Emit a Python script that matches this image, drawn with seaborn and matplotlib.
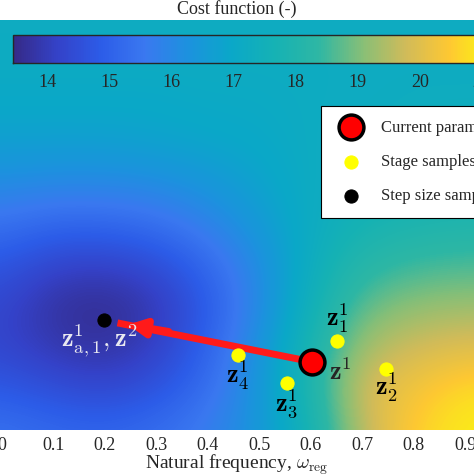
import numpy as np
import matplotlib
matplotlib.use("Agg")
import matplotlib.pyplot as plt
import seaborn as sns
from matplotlib.colors import LinearSegmentedColormap

sns.set_style("white")
plt.rcParams['font.family'] = ['Liberation Serif', 'DejaVu Serif']
plt.rcParams['mathtext.fontset'] = 'cm'

grid_x = [0.0, 0.1, 0.2, 0.3, 0.4, 0.5, 0.6, 0.7, 0.8, 0.9]
grid_y = [0.0, 0.1, 0.2, 0.3, 0.4, 0.5, 0.6, 0.7, 0.8, 0.9, 1.0]
cost = [
    [15.4, 15.2, 15.1, 15.3, 15.7, 16.4, 17.6, 19.6, 20.6, 21.0],
    [14.8, 14.5, 14.3, 14.6, 15.3, 16.4, 17.9, 19.9, 20.3, 20.8],
    [14.3, 13.9, 13.7, 14.1, 15.0, 16.3, 17.8, 19.4, 19.8, 20.0],
    [14.3, 13.7, 13.5, 13.9, 14.8, 16.0, 17.5, 18.8, 19.2, 19.3],
    [14.7, 14.2, 14.1, 14.4, 15.1, 16.1, 17.3, 18.2, 18.5, 18.6],
    [15.4, 15.1, 15.1, 15.3, 15.8, 16.5, 17.2, 17.7, 17.9, 18.0],
    [16.1, 16.0, 16.0, 16.1, 16.4, 16.8, 17.2, 17.4, 17.5, 17.6],
    [16.7, 16.7, 16.7, 16.8, 16.9, 17.0, 17.2, 17.3, 17.3, 17.4],
    [17.0, 17.0, 17.0, 17.0, 17.1, 17.1, 17.2, 17.2, 17.3, 17.3],
    [17.2, 17.2, 17.2, 17.2, 17.2, 17.2, 17.2, 17.2, 17.2, 17.2],
    [17.2, 17.2, 17.2, 17.2, 17.2, 17.2, 17.2, 17.2, 17.2, 17.2],
]
current_x, current_y = [0.603], [0.166]
stage_x = [0.651, 0.747, 0.554, 0.459]
stage_y = [0.217, 0.149, 0.115, 0.183]
stage_labels = [r'$\mathbf{z}_1^1$', r'$\mathbf{z}_2^1$', r'$\mathbf{z}_3^1$', r'$\mathbf{z}_4^1$']
step_x, step_y = [0.199], [0.268]
xticks = [0.0, 0.1, 0.2, 0.3, 0.4, 0.5, 0.6, 0.7, 0.8, 0.9]
cbar_ticks = [14, 15, 16, 17, 18, 19, 20, 21]

parula = LinearSegmentedColormap.from_list('parula', [
    '#352a87', '#3442c8', '#2c5ce8', '#3a78f0', '#1c92de', '#0aa8c8', '#16b2b4',
    '#2eb7a4', '#87bf77', '#d1bb59', '#fec832', '#f9fb0e'])
vmin, vmax = 13.44, 21.2

fig = plt.figure(figsize=(4.74, 4.74), dpi=100)
ax = fig.add_axes([0.0, 0.093, 1.0, 0.865])
x0, x1 = -0.003, 0.917
ax.imshow(np.array(cost), origin='lower', extent=[grid_x[0] - 0.05, grid_x[-1] + 0.05, -0.05, 1.05],
          cmap=parula, vmin=vmin, vmax=vmax, interpolation='bicubic', aspect='auto')
ax.set_xlim(x0, x1)
ax.set_ylim(0, 1)
ax.set_xticks(xticks)
ax.set_xticklabels(['0', '0.1', '0.2', '0.3', '0.4', '0.5', '0.6', '0.7', '0.8', '0.9'], fontsize=13)
ax.set_yticks([])
ax.tick_params(axis='x', direction='in', length=3, pad=5)
ax.set_xlabel(r'Natural frequency, $\omega_{\mathrm{reg}}$', fontsize=14, labelpad=-1)
for s in ax.spines.values():
    s.set_visible(False)

ax.plot([current_x[0], 0.225], [current_y[0], 0.261], color='#ff1a1a', lw=5, solid_capstyle='butt', zorder=3)
ax.annotate('', xy=(0.24, 0.258), xytext=(0.33, 0.239),
            arrowprops=dict(arrowstyle='-|>,head_length=1.0,head_width=0.5', color='#ff1a1a', lw=5), zorder=3)

sns.scatterplot(x=current_x, y=current_y, s=320, color='red', edgecolor='black', linewidth=2.5,
                ax=ax, zorder=5, label='Current parameters')
sns.scatterplot(x=stage_x, y=stage_y, s=90, color='yellow', edgecolor='yellow', ax=ax, zorder=5, label='Stage samples')
sns.scatterplot(x=step_x, y=step_y, s=90, color='black', edgecolor='black', ax=ax, zorder=5, label='Step size samples')

offs = [(0.0, 0.055), (0.0, -0.045), (0.0, -0.05), (0.0, -0.05)]
for xx, yy, lab, (dx, dy) in zip(stage_x, stage_y, stage_labels, offs):
    ax.text(xx + dx, yy + dy, lab, fontsize=19, ha='center', va='center', color='black', zorder=6)
ax.text(current_x[0] + 0.055, current_y[0] - 0.025, r'$\mathbf{z}^1$', fontsize=19, ha='center', va='center', zorder=6)
ax.text(step_x[0] - 0.01, step_y[0] - 0.05, r'$\mathbf{z}_{\mathrm{a},1}^1,\mathbf{z}^2$', fontsize=19,
        ha='center', va='center', color='#e8e8f0', zorder=6)

leg = ax.legend(loc='upper left', bbox_to_anchor=(313 / 474, 1 - 98 / 474), bbox_transform=fig.transFigure,
                fontsize=12, frameon=True, fancybox=False, edgecolor='black', framealpha=1,
                borderpad=0.8, labelspacing=1.1, handletextpad=0.8)
leg.get_frame().set_linewidth(0.8)

cax = fig.add_axes([13 / 474, 1 - 63 / 474, (vmax - vmin) * 62 / 474, 28 / 474])
sm = plt.cm.ScalarMappable(cmap=parula, norm=plt.Normalize(vmin, vmax))
cb = fig.colorbar(sm, cax=cax, orientation='horizontal', ticks=cbar_ticks)
cb.ax.tick_params(direction='in', length=4, labelsize=13, pad=8)
cb.outline.set_linewidth(1)
fig.text(0.5, 1 - 9 / 474, 'Cost function (-)', ha='center', va='center', fontsize=13)

fig.savefig('out.png', dpi=100)
